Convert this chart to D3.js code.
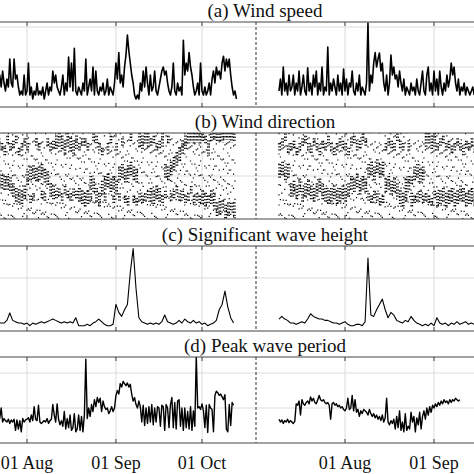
<!DOCTYPE html>
<html>
<head>
<meta charset="utf-8">
<script src="https://cdn.jsdelivr.net/npm/d3@7"></script>
<style>
  body { margin: 0; background: #fff; }
  svg { display: block; }
  text { font-family: "Liberation Serif", "DejaVu Serif", serif; fill: #111; }
</style>
</head>
<body>
<div id="chart"></div>
<script>
// Half-day wind speed, left season starts 22 Jul, right season starts 09 Jul
const windLeft = [6,8,5,9,6,4,7,5,12,6, 5,12,7,8,5,3,4,3,8,3, 4,11,3,5,2,4,3,6,3,4,
  3,5,2,4,6,3,5,4,9,6, 8,5,4,3,5,8,3,6,4,12.5, 5,11,4,14.7,4,3,5,4,3,6,
  4,12,3,5,7,4,10,3,9,4, 3,5,4,6,3,4,7,3,5,4, 3,6,11,7,13.6,6,8,5,10,13,
  18,14,11,8,6,3,2,3,2,6, 4,9,5,10,6,3,8,4,5,9, 4,3,5,7,9,10,8,9,6,4,
  3,5,11,4,3,6,4,5,3,16.7, 8,11,9,13.6,10,8,5,3,4,6, 3,11,4,3,5,3,4,6,3,7,
  9,6,10,8,9,7,11,12.7,9,12, 10,12,8,5,3,4,2];
const windRight = [4,7,3,10,4,6,3,8,4,5, 8,3,6,4,9,3,5,8,4,3, 9.8,4,6,3,8,5,9,3,6,4,
  10,3,5,4,15,3,6,4,7,5, 3,8,4,6,3,9.5,4,7,3,6, 5,9,4,3,6,4,8,3,5,4,
  3,6,21,4,8,6,11,13.6,10,12, 13.5,9,11,6,4,8,3,6,13,8, 10,7,8,5,9,6,4,7,3,5,
  4,3,6,4,5,3,7,4,3,6, 9,4,3,8,10,4,6,3,9,4, 7,3,9,5,3,6,4,8,5,7,
  11,8,10,6,4,7,3,5,4,6, 3,5,4,3,4,5,3];

// Daily wind direction: main cluster and secondary cluster (deg)
const dirMainLeft = [160,155,150,150,145,120,100,95,90,110, 170,190,195,185,190,200,180,170,120,110,
  320,330,320,300,330,310,300,320,100,90, 80,90,150,140,100,80,130,150,160,140,
  150,130,190,200,180,195,210,190,180,330, 320,340,330,100,90,110,100,330,200,190,
  210,230,250,270,300,320,340,350,345,350, 340,90,80,300,90,80,40,45,350,30,40,350,40];
const dirSecLeft = [320,300,280,330,300,310,330,280,300,320, 300,80,90,320,300,100,90,320,300,310,
  100,110,90,120,100,90,110,100,300,320, 320,300,90,340,330,300,280,90,300,330,
  80,300,90,320,80,70,340,80,70,90, 80,90,100,320,330,300,310,80,100,330,
  90,100,120,90,100,80,90,120,80,90, 80,340,330,80,340,350,340,340,60,350,350,50,340];
const dirMainRight = [200,210,190,200,120,130,110,140,100,120, 130,110,100,120,140,110,100,90,100,110,
  90,100,110,100,120,150,140,160,130,150, 140,200,210,190,220,200,210,140,150,130,
  140,120,90,80,100,150,80,190,200,180, 190,330,340,320,330,80,90,100,80,90,
  100,80,90,110,100,80,90,100,80];
const dirSecRight = [300,320,340,290,300,310,280,300,320,330, 300,290,320,300,280,310,300,330,300,280,
  300,320,310,300,280,320,330,300,310,340, 320,90,80,100,90,70,80,300,320,310,
  300,340,310,300,150,300,160,80,90,100, 80,90,80,70,100,300,320,330,300,310,
  290,300,320,300,280,310,300,320,290];

// Daily significant wave height (m)
const hsLeft = [0.3,0.3,0.3,0.4,0.68,0.4,0.35,0.3,0.3,0.25, 0.3,0.2,0.3,0.25,0.3,0.35,0.3,0.35,0.4,0.45,
  0.4,0.35,0.3,0.35,0.3,0.35,0.3,0.5,0.2,0.2, 0.2,0.25,0.2,0.3,0.35,0.45,0.35,0.25,0.2,0.2,
  0.25,1.0,0.7,0.55,0.8,1.0,2.2,3.1,1.6,0.5, 0.35,0.3,0.25,0.3,0.25,0.3,0.25,0.35,0.6,0.35,
  0.3,0.25,0.3,0.4,0.3,0.45,0.35,0.3,0.4,0.3, 0.35,0.25,0.3,0.2,0.25,0.3,0.4,0.8,1.0,1.5,0.9,0.5,0.3];
const hsRight = [0.45,0.55,0.45,0.4,0.3,0.3,0.25,0.3,0.35,0.3, 0.45,0.65,0.55,0.5,0.45,0.45,0.4,0.4,0.35,0.3,
  0.3,0.25,0.3,0.35,0.25,0.2,0.2,0.25,0.25,0.2, 0.35,2.75,0.6,0.55,0.8,1.0,1.2,0.8,0.5,0.7,
  0.6,0.4,0.35,0.3,0.4,0.35,0.55,0.4,0.3,0.25, 0.2,0.25,0.2,0.3,0.2,0.5,0.3,0.25,0.3,0.2,
  0.3,0.25,0.35,0.25,0.3,0.35,0.25,0.3,0.25];

// Half-day peak wave period (s)
const tpLeft = [4.5,3.5,5,3,3.5,3.2,3,3.4,2.8,3.3, 3,3.4,1.8,3.3,2,3.2,1.6,3.5,3,3.3,
  3.4,3.6,3,4,3.2,5.2,3.4,3.2,5.4,3, 2.8,3,3.2,3,3.5,2.8,3.2,3.4,5.5,4,
  3,5.6,3.4,2.6,3.2,2.4,4.5,2,3.5,2.2, 4,1.8,2.2,4.2,1.6,2,4,1.8,3.8,1.6,
  4,12,3.5,5,3.8,5.5,4.5,6.2,5.2,6.5, 5.8,6.4,4.5,6,5.2,4.8,5,4.2,4.6,5.2,
  4.5,5,6.8,7.5,7,8.5,8,8.8,8.5,8.2, 8.6,8,8.4,7,6,6.5,5.5,5,6,5.2,
  3,5.4,2.5,5,2.8,5.2,3,5.5,2.6,5, 3,5.2,5,2.4,5.4,5.2,1.8,5.5,5,2.2,
  5.5,6.5,2.2,5.8,2,6,6.2,2.4,5,1.8, 5,2.2,4.5,2,5.2,1.8,4.6,2.4,12.5,5,
  5.2,4.8,5.6,4.6,2.2,5.4,1.5,5.5,5,4.8, 1.6,6.8,7.4,7.2,6.8,7,6.6,6.2,6.9,2,
  1.6,5.5,2.5,5.8,5.4];
const tpRight = [3.4,3.0,3.3,2.8,3.2,3.0,3.4,2.9,3.2,3.0,2.8,3.1,
  5.6,5.4,6.0,4.0,6.2,5.6,5.4,5.8, 6.0,5.6,6.6,6.0,6.4,5.8,5.6,6.2,6.8,6.2,
  6.0,6.2,5.8,5.6,5.8,5.4,3.4,5.6,5.8,5.4, 5.6,5.2,5.4,5.0,5.2,4.8,4.6,5.0,6.4,4.8,
  5.0,6.8,4.6,6.2,4.4,4.8,3.8,4.6,4.2,4.8, 4.6,4.4,4.0,4.8,4.2,3.8,4.2,3.6,4.0,3.4,
  3.8,3.2,4.0,3.0,3.6,6.4,3.0,2.6,3.2,2.8, 3.4,2.0,3.8,2.2,4.6,1.8,3.0,1.6,4.2,1.8,
  2.4,2.0,4.4,3.0,3.8,1.6,3.6,2.6,4.4,2.0, 3.8,4.6,3.4,5.0,4.0,5.2,4.4,5.4,5.0,5.6,
  5.2,5.8,5.4,6.0,5.6,6.2,5.8,6.0,5.6,6.2, 5.8,6.2,6.0,6.4,6.2,6.0,6.2];

const monthTicksLeft = ['2015-08-01', '2015-09-01', '2015-10-01'];
const monthTicksRight = ['2016-08-01', '2016-09-01'];
const titles = ['(a) Wind speed', '(b) Wind direction', '(c) Significant wave height', '(d) Peak wave period'];

const W = 474, H = 474;
const svg = d3.select('#chart').append('svg').attr('width', W).attr('height', H);

const xL = d3.scaleTime().domain([new Date(2015, 7, 1), new Date(2015, 9, 1)]).range([27, 202]);
const xR = d3.scaleTime().domain([new Date(2016, 7, 1), new Date(2016, 8, 1)]).range([345, 434]);
const startL = new Date(2015, 6, 22);
const startR = new Date(2016, 6, 9);
const halfDay = (start, i) => d3.timeHour.offset(start, i * 12);
const day = (start, i) => d3.timeDay.offset(start, i);

const panels = [
  { top: 22, bottom: 107, domain: [0, 21.25], grid: [10, 20] },
  { top: 133, bottom: 219, domain: [0, 360], grid: [180] },
  { top: 246, bottom: 331, domain: [0, 3.2], grid: [2] },
  { top: 357, bottom: 443, domain: [0, 12.3], grid: [5, 10] }
];

const ticksL = monthTicksLeft.map(d => xL(new Date(d + 'T00:00')));
const ticksR = monthTicksRight.map(d => xR(new Date(d + 'T00:00')));
const allTicks = ticksL.concat(ticksR);

panels.forEach((p, pi) => {
  p.y = d3.scaleLinear().domain(p.domain).range([p.bottom, p.top]);
  const g = svg.append('g');

  svg.append('clipPath').attr('id', 'clip' + pi)
    .append('rect').attr('x', 0).attr('y', p.top).attr('width', W).attr('height', p.bottom - p.top);

  // grid
  g.selectAll('.hg').data(p.grid).enter().append('line')
    .attr('x1', 0).attr('x2', W).attr('y1', d => p.y(d)).attr('y2', d => p.y(d))
    .attr('stroke', '#dcdcdc').attr('stroke-width', 1);
  g.selectAll('.vg').data(allTicks).enter().append('line')
    .attr('x1', d => d).attr('x2', d => d).attr('y1', p.top).attr('y2', p.bottom)
    .attr('stroke', '#dcdcdc').attr('stroke-width', 1);

  // title
  svg.append('text').attr('x', 265).attr('y', p.top - 5)
    .attr('text-anchor', 'middle').attr('font-size', 19).text(titles[pi]);
});

const content = panels.map((p, pi) => svg.append('g').attr('clip-path', `url(#clip${pi})`));

function drawLine(g, data, start, step, x, y, w) {
  const line = d3.line().x((d, i) => x(step(start, i))).y(d => y(d));
  g.append('path').datum(data).attr('d', line)
    .attr('fill', 'none').attr('stroke', '#000').attr('stroke-width', w).attr('stroke-linejoin', 'round');
}

drawLine(content[0], windLeft, startL, halfDay, xL, panels[0].y, 1.6);
drawLine(content[0], windRight, startR, halfDay, xR, panels[0].y, 1.6);
drawLine(content[2], hsLeft, startL, day, xL, panels[2].y, 1.1);
drawLine(content[2], hsRight, startR, day, xR, panels[2].y, 1.1);
drawLine(content[3], tpLeft, startL, halfDay, xL, panels[3].y, 1.4);
drawLine(content[3], tpRight, startR, halfDay, xR, panels[3].y, 1.4);

// wind direction as scattered dots: sparse full-range streaks plus dense clusters
function drawDir(g, main, sec, start, x, y) {
  main.forEach((m, i) => {
    const t = day(start, i);
    [0, 0.5].forEach((o, j) => {
      const xx = x(d3.timeHour.offset(t, o * 24));
      g.append('line').attr('x1', xx).attr('x2', xx)
        .attr('y1', y(360)).attr('y2', y(0))
        .attr('stroke', '#000').attr('stroke-width', 1.2)
        .attr('stroke-dasharray', `1.2,${9 + ((i * 3 + j) % 5) * 4}`)
        .attr('stroke-dashoffset', (i * 7 + j * 5) % 13);
      [[m, 30], [sec[i], 18]].forEach(([v, spread]) => {
        g.append('line').attr('x1', xx).attr('x2', xx)
          .attr('y1', y(Math.min(360, v + spread))).attr('y2', y(Math.max(0, v - spread)))
          .attr('stroke', '#000').attr('stroke-width', 1.3)
          .attr('stroke-dasharray', '1.3,1.8');
      });
    });
  });
}
drawDir(content[1], dirMainLeft, dirSecLeft, startL, xL, panels[1].y);
drawDir(content[1], dirMainRight, dirSecRight, startR, xR, panels[1].y);

// frames, ticks, divider
panels.forEach(p => {
  [p.top, p.bottom].forEach(yy => svg.append('line')
    .attr('x1', 0).attr('x2', W).attr('y1', yy).attr('y2', yy)
    .attr('stroke', '#444').attr('stroke-width', 1.2));
  allTicks.forEach(t => {
    svg.append('line').attr('x1', t).attr('x2', t).attr('y1', p.top).attr('y2', p.top + 4)
      .attr('stroke', '#444').attr('stroke-width', 1);
    svg.append('line').attr('x1', t).attr('x2', t).attr('y1', p.bottom).attr('y2', p.bottom - 4)
      .attr('stroke', '#444').attr('stroke-width', 1);
  });
  svg.append('line').attr('x1', 256).attr('x2', 256).attr('y1', p.top).attr('y2', p.bottom)
    .attr('stroke', '#333').attr('stroke-width', 1).attr('stroke-dasharray', '3,2');
});

// date labels
const fmt = d3.timeFormat('%d %b');
const labels = monthTicksLeft.map(d => ({ x: xL(new Date(d + 'T00:00')), t: fmt(new Date(d + 'T00:00')) }))
  .concat(monthTicksRight.map(d => ({ x: xR(new Date(d + 'T00:00')), t: fmt(new Date(d + 'T00:00')) })));
svg.selectAll('.lbl').data(labels).enter().append('text')
  .attr('x', d => d.x).attr('y', 469).attr('text-anchor', 'middle')
  .attr('font-size', 18).text(d => d.t);
</script>
</body>
</html>
